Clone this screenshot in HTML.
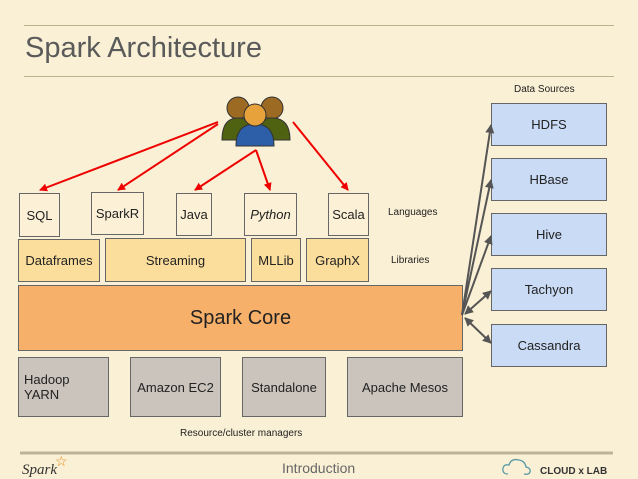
<!DOCTYPE html>
<html><head><meta charset="utf-8"><style>
body{margin:0;width:638px;height:479px;overflow:hidden;background:#FAF0D5;font-family:"Liberation Sans",sans-serif;}
.b{position:absolute;box-sizing:border-box;border:1px solid #666;display:flex;align-items:center;justify-content:center;font-size:13px;color:#222;text-align:center;}
.l{background:#FCF1D7}.lib{background:#FCDE9C}.core{background:#F6B06A;font-size:20px}.g{background:#CAC4BC}.ds{background:#C9DBF5;font-size:13px}
.t{position:absolute;font-size:10px;color:#222}
</style></head><body>
<div style="position:absolute;left:24px;top:25px;width:590px;height:1px;background:#BFB08F"></div>
<div style="position:absolute;left:24px;top:76px;width:590px;height:1px;background:#BFB08F"></div>
<div style="position:absolute;left:25px;top:32px;font-size:29px;color:#5a5a5a">Spark Architecture</div>

<div class="b l" style="left:19px;top:193px;width:41px;height:44px">SQL</div>
<div class="b l" style="left:91px;top:192px;width:53px;height:43px">SparkR</div>
<div class="b l" style="left:176px;top:193px;width:36px;height:43px">Java</div>
<div class="b l" style="left:244px;top:193px;width:53px;height:43px;font-style:italic">Python</div>
<div class="b l" style="left:328px;top:193px;width:41px;height:43px">Scala</div>
<div class="t" style="left:388px;top:207px">Languages</div>

<div class="b lib" style="left:18px;top:239px;width:82px;height:43px">Dataframes</div>
<div class="b lib" style="left:105px;top:238px;width:141px;height:44px">Streaming</div>
<div class="b lib" style="left:251px;top:238px;width:50px;height:44px">MLLib</div>
<div class="b lib" style="left:306px;top:238px;width:63px;height:44px">GraphX</div>
<div class="t" style="left:391px;top:255px">Libraries</div>

<div class="b core" style="left:18px;top:285px;width:445px;height:66px">Spark Core</div>

<div class="b g" style="left:18px;top:357px;width:91px;height:60px;justify-content:flex-start;text-align:left;padding-left:5px">Hadoop<br>YARN</div>
<div class="b g" style="left:130px;top:357px;width:91px;height:60px">Amazon EC2</div>
<div class="b g" style="left:242px;top:357px;width:84px;height:60px">Standalone</div>
<div class="b g" style="left:347px;top:357px;width:116px;height:60px">Apache Mesos</div>
<div class="t" style="left:180px;top:428px">Resource/cluster managers</div>

<div class="t" style="left:514px;top:84px">Data Sources</div>
<div class="b ds" style="left:491px;top:103px;width:116px;height:43px">HDFS</div>
<div class="b ds" style="left:491px;top:158px;width:116px;height:43px">HBase</div>
<div class="b ds" style="left:491px;top:213px;width:116px;height:43px">Hive</div>
<div class="b ds" style="left:491px;top:268px;width:116px;height:43px">Tachyon</div>
<div class="b ds" style="left:491px;top:324px;width:116px;height:43px">Cassandra</div>

<svg width="638" height="479" style="position:absolute;left:0;top:0">
<defs>
<marker id="r" markerWidth="8" markerHeight="8" refX="7" refY="4" orient="auto" markerUnits="userSpaceOnUse"><path d="M0,0 L8,4 L0,8 z" fill="#e00"/></marker>
<marker id="k" markerWidth="9" markerHeight="9" refX="8" refY="4.5" orient="auto-start-reverse" markerUnits="userSpaceOnUse"><path d="M0,0 L9,4.5 L0,9 z" fill="#555"/></marker>
</defs>
<g stroke="#e00" stroke-width="2" fill="none">
<line x1="218" y1="122" x2="40" y2="190" marker-end="url(#r)"/>
<line x1="218" y1="124" x2="118" y2="190" marker-end="url(#r)"/>
<line x1="256" y1="150" x2="195" y2="190" marker-end="url(#r)"/>
<line x1="256" y1="150" x2="270" y2="190" marker-end="url(#r)"/>
<line x1="293" y1="122" x2="348" y2="190" marker-end="url(#r)"/>
</g>
<g stroke="#555" stroke-width="2" fill="none">
<line x1="462" y1="315" x2="491" y2="125" marker-end="url(#k)"/>
<line x1="462" y1="315" x2="491" y2="180" marker-end="url(#k)"/>
<line x1="462" y1="315" x2="491" y2="236" marker-end="url(#k)"/>
<line x1="465" y1="314" x2="491" y2="291" marker-start="url(#k)" marker-end="url(#k)"/>
<line x1="465" y1="318" x2="491" y2="343" marker-start="url(#k)" marker-end="url(#k)"/>
</g>
<g stroke="#333" stroke-width="1">
<circle cx="238" cy="108" r="11" fill="#9c6a22"/>
<circle cx="272" cy="108" r="11" fill="#9c6a22"/>
<path d="M222,140 Q222,118 238,118 Q254,118 254,140 Z" fill="#4f6212"/>
<path d="M256,140 Q256,118 272,118 Q290,118 290,140 Z" fill="#4f6212"/>
<path d="M236,146 Q236,124 255,124 Q274,124 274,146 Z" fill="#2d5fa8"/>
<circle cx="255" cy="115" r="11" fill="#e8a23c"/>
</g>
<line x1="20" y1="453" x2="613" y2="453" stroke="#BDB39C" stroke-width="3"/>
<text x="22" y="474" font-family="Liberation Serif" font-style="italic" font-size="15" fill="#333">Spark</text>
<text x="55" y="466" font-size="14" fill="#e48a1a">☆</text>
<text x="282" y="473" font-family="Liberation Sans" font-size="14" fill="#666">Introduction</text>
<path d="M508,474 q-6,0 -5,-6 q1,-4 6,-3 q2,-7 10,-5 q6,1 7,7 q5,1 4,5 q-1,3 -6,2" fill="none" stroke="#5a9aa6" stroke-width="1.3"/>
<text x="540" y="474" font-family="Liberation Sans" font-weight="bold" font-size="10" fill="#333">CLOUD x LAB</text>
</svg>
</body></html>
